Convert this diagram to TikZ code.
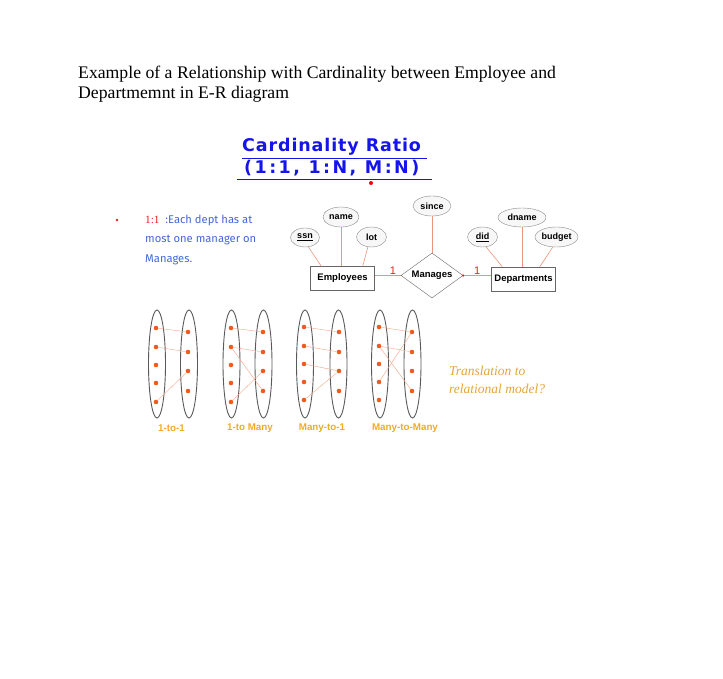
\documentclass[tikz,border=0pt]{standalone}
\usepackage{fontspec}
\setmainfont{Liberation Serif}
\newfontfamily\arialfont{Liberation Sans}
\newfontfamily\roundfont{Fira Sans}
\newfontfamily\widefont[LetterSpace=5]{DejaVu Sans}
\newfontfamily\widerfont[LetterSpace=14]{DejaVu Sans}
\usepackage{tikz}
\usetikzlibrary{arrows.meta,positioning,shapes.geometric,calc}
\definecolor{cardblue}{RGB}{20,20,235}
\definecolor{notesblue}{RGB}{70,100,220}
\definecolor{onered}{RGB}{230,30,30}
\definecolor{erline}{RGB}{232,150,125}
\definecolor{attrgray}{RGB}{140,140,140}
\definecolor{dotorange}{RGB}{240,90,30}
\definecolor{edgeorange}{RGB}{242,165,135}
\definecolor{setgold}{RGB}{240,170,40}
\definecolor{transgold}{RGB}{228,165,55}

\begin{document}
\begin{tikzpicture}[
  x=1pt, y=-1pt,
  heading/.style={anchor=base west, inner sep=0, font=\fontsize{17.7}{20}\selectfont},
  ratio/.style={anchor=base west, inner sep=0, text=cardblue},
  note/.style={anchor=base west, inner sep=0, text=notesblue,
               font=\roundfont\fontsize{11.2}{13}\selectfont},
  attr/.style={ellipse, draw=attrgray, fill=gray!6, inner sep=0,
               font=\arialfont\bfseries\fontsize{9}{10}\selectfont},
  entity/.style={rectangle, draw=gray!80!black, fill=white, inner sep=0,
                 minimum width=64, minimum height=24,
                 font=\arialfont\bfseries\fontsize{9.5}{10}\selectfont},
  relship/.style={diamond, draw=gray!80!black, fill=white, inner sep=0, aspect=1.4,
                  minimum width=62, minimum height=45,
                  font=\arialfont\bfseries\fontsize{9.5}{10}\selectfont},
  link/.style={erline, semithick},
  card/.style={text=onered, inner sep=1, font=\arialfont\fontsize{11}{12}\selectfont},
  setoval/.style={ellipse, draw=gray!70!black, line width=0.9pt, inner sep=0,
                  minimum width=17, minimum height=108},
  dot/.style={circle, fill=dotorange, inner sep=0, minimum size=4.6},
  pair/.style={edgeorange, thin},
  setname/.style={text=setgold, inner sep=0,
                  font=\arialfont\bfseries\fontsize{9.8}{10}\selectfont},
  query/.style={anchor=base west, inner sep=0, text=transgold,
                font=\itshape\fontsize{13.5}{16}\selectfont}
]
  \useasboundingbox (0,0) rectangle (723,679);

  % heading
  \node[heading] (head1) at (78,79) {Example of a Relationship with Cardinality between Employee and};
  \node[heading] (head2) at (78,99) {Departmemnt in E-R diagram};

  % cardinality ratio title
  \node[ratio, font=\widefont\bfseries\fontsize{17.5}{20}\selectfont] (ratio1) at (242,152) {Cardinality Ratio};
  \node[ratio, font=\widerfont\bfseries\fontsize{17.5}{20}\selectfont] (ratio2) at (244,174) {(1:1, 1:N, M:N)};
  \draw[cardblue, thick] (ratio1.base west) ++(0,6) coordinate (u1a) -- ++(185,0);
  \draw[cardblue, thick] (ratio2.base west) ++(-7,5) coordinate (u2a) -- ++(195,0);
  \node[circle, fill=red, inner sep=0, minimum size=4] (reddot) at (371,183) {};

  % note
  \node[circle, fill=onered, inner sep=0, minimum size=2.6] (bullet) at (117,220) {};
  \node[note] (note1) at (145,224) {\textcolor{onered}{\fontspec{Liberation Serif}1:1}\ \ :Each dept has at};
  \node[note] (note2) at (145,243) {most one manager on};
  \node[note] (note3) at (145,262) {Manages.};

  % E-R diagram
  \node[entity]  (emp)   at (342.5,278.5) {Employees};
  \node[relship] (man)   at (432,275.5)   {Manages};
  \node[entity]  (dept)  at (523.5,279)   {Departments};
  \node[attr, minimum width=29, minimum height=19] (ssn)    at (305,237.5) {\underline{ssn}};
  \node[attr, minimum width=36, minimum height=20] (name)   at (341,217)   {name};
  \node[attr, minimum width=30, minimum height=20] (lot)    at (371.5,237) {lot};
  \node[attr, minimum width=38, minimum height=20] (since)  at (432,206)   {since};
  \node[attr, minimum width=30, minimum height=20] (did)    at (482.5,237) {\underline{did}};
  \node[attr, minimum width=48, minimum height=19] (dname)  at (522,217.5) {dname};
  \node[attr, minimum width=43, minimum height=20] (budget) at (556.5,237) {budget};

  \draw[link] (ssn.290) -- ($(emp.north west)+(11,0)$);
  \draw[link] (name.south) -- (name.south |- emp.north);
  \draw[link] (lot.250) -- ($(emp.north east)+(-12,0)$);
  \draw[link] (since) -- (man);
  \draw[link] (did.290) -- ($(dept.north west)+(11,0)$);
  \draw[link] (dname.south) -- (dname.south |- dept.north);
  \draw[link] (budget.250) -- ($(dept.north east)+(-16,0)$);
  \draw[link] (man.west -| emp.east) -- node[card, pos=0.7, above] (k1) {1} (man.west);
  \draw[link] (man.east -| dept.west) -- node[card, pos=0.5, above] (k2) {1} (man.east);
  \node[circle, fill=onered, inner sep=0, minimum size=2.5] (mdot) at (man.east) {};

  % mapping sets
  \node[setoval] (o1l) at (157,364)   {};
  \node[setoval] (o1r) at (189,364)   {};
  \node[setoval] (o2l) at (231.5,364) {};
  \node[setoval] (o2r) at (263.5,364) {};
  \node[setoval] (o3l) at (305,364)   {};
  \node[setoval] (o3r) at (338.5,364) {};
  \node[setoval] (o4l) at (380,364)   {};
  \node[setoval] (o4r) at (412.5,364) {};

  \node[dot] (a1) at (156,328) {}; \node[dot] (a2) at (156,347) {}; \node[dot] (a3) at (156,365) {};
  \node[dot] (a4) at (156,383) {}; \node[dot] (a5) at (156,402) {};
  \node[dot] (b1) at (188,332) {}; \node[dot] (b2) at (188,352) {}; \node[dot] (b3) at (188,371) {};
  \node[dot] (b4) at (188,391) {};
  \node[dot] (c1) at (231,328) {}; \node[dot] (c2) at (231,347) {}; \node[dot] (c3) at (231,365) {};
  \node[dot] (c4) at (231,383) {}; \node[dot] (c5) at (231,402) {};
  \node[dot] (d1) at (263,332) {}; \node[dot] (d2) at (263,352) {}; \node[dot] (d3) at (263,371) {};
  \node[dot] (d4) at (263,391) {};
  \node[dot] (e1) at (304,327) {}; \node[dot] (e2) at (304,346) {}; \node[dot] (e3) at (304,364) {};
  \node[dot] (e4) at (304,382) {}; \node[dot] (e5) at (304,400) {};
  \node[dot] (f1) at (339,332) {}; \node[dot] (f2) at (339,352) {}; \node[dot] (f3) at (339,371) {};
  \node[dot] (f4) at (339,391) {};
  \node[dot] (g1) at (379,327) {}; \node[dot] (g2) at (379,346) {}; \node[dot] (g3) at (379,364) {};
  \node[dot] (g4) at (379,382) {}; \node[dot] (g5) at (379,400) {};
  \node[dot] (h1) at (412,332) {}; \node[dot] (h2) at (412,352) {}; \node[dot] (h3) at (412,371) {};
  \node[dot] (h4) at (412,391) {};

  \draw[pair] (a1) -- (b1);  \draw[pair] (a2) -- (b2);  \draw[pair] (a5) -- (b3);
  \draw[pair] (c1) -- (d1);  \draw[pair] (c2) -- (d2);  \draw[pair] (c2) -- (d4);
  \draw[pair] (c5) -- (d3);
  \draw[pair] (e1) -- (f1);  \draw[pair] (e2) -- (f2);  \draw[pair] (e3) -- (f3);
  \draw[pair] (e5) -- (f3);
  \draw[pair] (g1) -- (h1);  \draw[pair] (g2) -- (h2);  \draw[pair] (g2) -- (h4);
  \draw[pair] (g4) -- (h1);

  \node[setname] (n1) at (171.5,428) {1-to-1};
  \node[setname] (n2) at (250,428)   {1-to Many};
  \node[setname] (n3) at (322,428)   {Many-to-1};
  \node[setname] (n4) at (405,428)   {Many-to-Many};

  % question
  \node[query] (q1) at (449,375) {Translation to};
  \node[query] (q2) at (449,393) {relational model?};
\end{tikzpicture}
\end{document}
